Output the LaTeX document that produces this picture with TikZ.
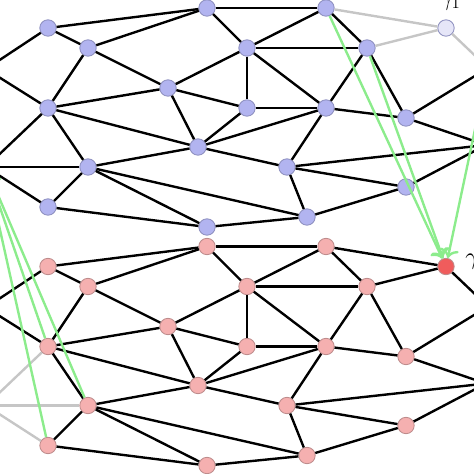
\documentclass[tikz,border=0pt]{standalone}
\usepackage{amsmath,amssymb}
\usepackage{tikz}
\usetikzlibrary{arrows.meta}
\definecolor{vblue}{RGB}{178,180,240}
\definecolor{vbluedraw}{RGB}{140,142,190}
\definecolor{vpink}{RGB}{245,176,176}
\definecolor{vpinkdraw}{RGB}{190,140,140}
\definecolor{vpale}{RGB}{230,230,248}
\definecolor{vred}{RGB}{240,92,92}
\definecolor{linkgreen}{RGB}{140,236,140}
\tikzset{
  vtx/.style={circle, inner sep=0pt, minimum size=0.41cm, line width=0.6pt},
  upv/.style={vtx, fill=vblue, draw=vbluedraw},
  lowv/.style={vtx, fill=vpink, draw=vpinkdraw},
  edge/.style={line width=1.7pt},
  fade/.style={gray!45, line width=1.7pt},
  link/.style={-{To[scale=1.2]}, linkgreen, line width=1.7pt},
  lbl/.style={font=\LARGE, inner sep=0pt}
}

\begin{document}
\begin{tikzpicture}[x=0.025cm, y=-0.025cm]
  \useasboundingbox (0,0) rectangle (474,474);
  \clip (0,0) rectangle (474,474);

  % one layer on the pixel grid, the lower copy sits 238.5 further down
  \foreach \v/\x/\y in {A/207/8, B/48/28, C/88/48, D/168/88, E/48/108,
      F/198/147, G/88/167, H/48/207, I/207/227, J/326/8, K/247/48,
      L/367/48, N/247/108, O/326/108, P/406/118, Q/287/167, R/406/187,
      S/307/217, X/-14/69, Y/-14/167, V/488/68, W/486/145}{
    \node[upv] (u\v) at (\x,\y) {};
    \node[lowv] (l\v) at (\x,\y+238.5) {};
  }
  \node[upv, fill=vpale] (uM) at (446,28) {};
  \node[lowv, fill=vred] (lM) at (446,266.5) {};

  % edges shared by both layers
  \foreach \a/\b in {A/B, A/C, A/J, A/K, B/C, B/X, C/D, C/E, D/E, D/F,
      D/K, D/N, E/X, E/F, E/G, F/G, F/N, F/O, F/Q, G/H, G/I, G/S, H/I,
      I/S, J/K, J/L, K/L, K/N, K/O, L/O, L/P, N/O, O/P, O/Q, P/V, P/W,
      Q/W, Q/R, Q/S, R/W, R/S}{
    \draw[edge] (u\a) -- (u\b);
    \draw[edge] (l\a) -- (l\b);
  }

  % edges that differ
  \foreach \a/\b in {E/Y, G/Y, H/Y}{
    \draw[edge] (u\a) -- (u\b);
    \draw[fade] (l\a) -- (l\b);
  }
  \foreach \a/\b in {J/M, L/M, M/V}{
    \draw[fade] (u\a) -- (u\b);
    \draw[edge] (l\a) -- (l\b);
  }

  % links between the layers
  \foreach \a in {J, L, V}
    \draw[link] (u\a) -- (lM);
  \foreach \a in {E, G, H}
    \draw[link] (l\a) -- (uY);

  \node[lbl, anchor=base] (g1) at (450,5) {$\gamma_1$};
  \node[lbl, anchor=base west] (g2) at (465,264) {$\gamma_2$};
\end{tikzpicture}
\end{document}
